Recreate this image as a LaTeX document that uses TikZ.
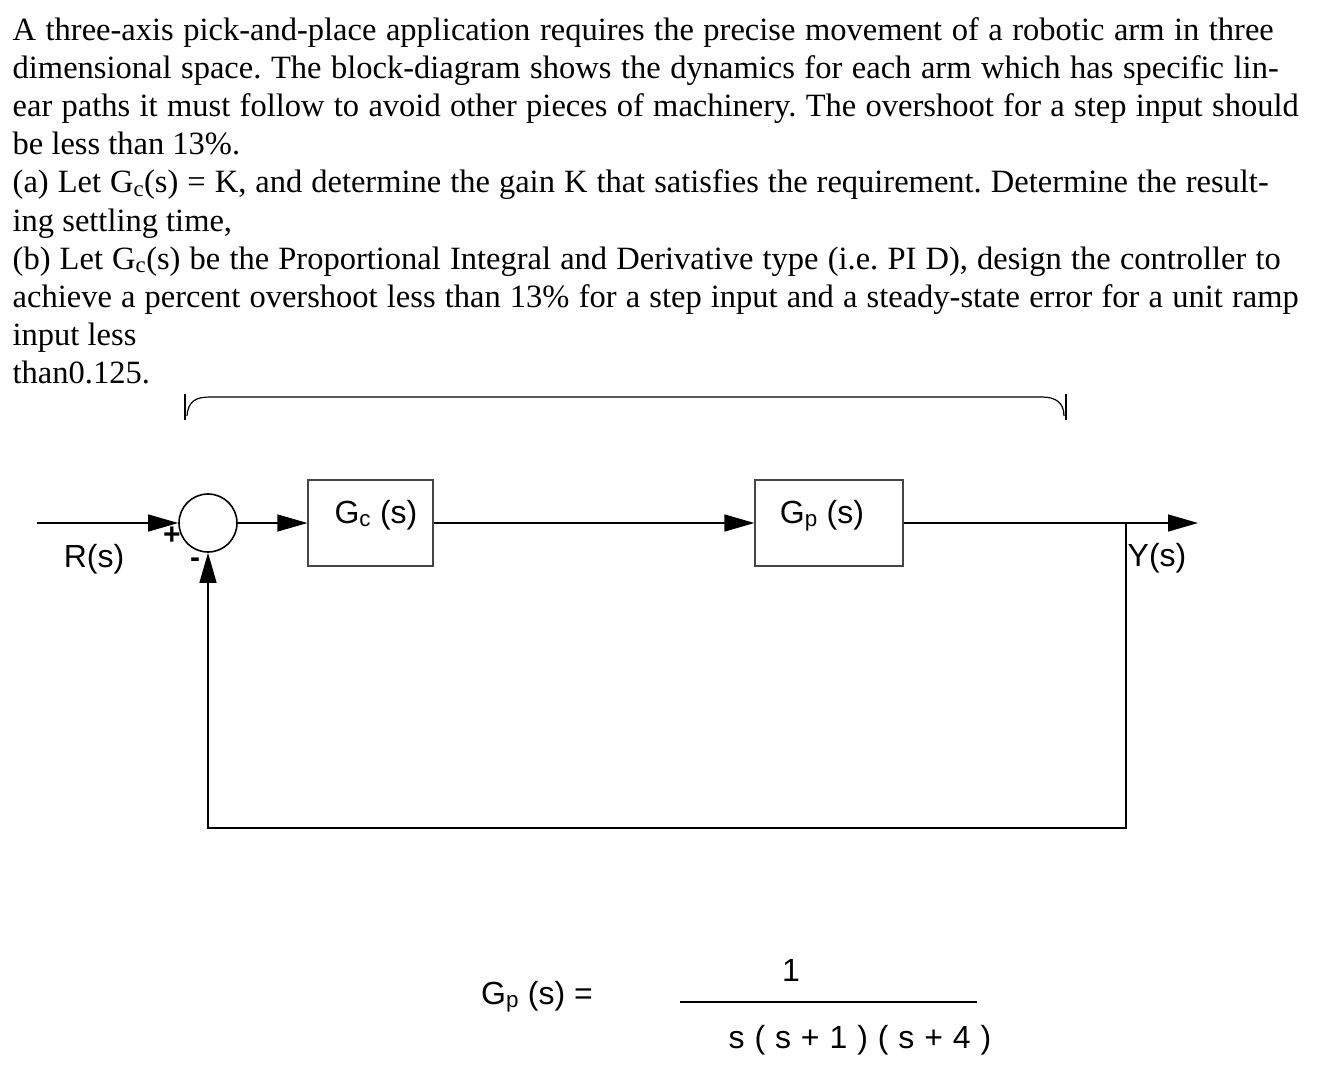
\documentclass[tikz,border=0pt]{standalone}
\usepackage{fontspec}
\setmainfont{Liberation Serif}
\setsansfont{Liberation Sans}
\usetikzlibrary{arrows.meta}
\frenchspacing

\def\txtx{12}
\def\txtskip{38.2}
\def\rowy{523}
\def\fby{828}
\definecolor{boxgray}{RGB}{70,70,70}
\newcommand{\lineY}[1]{40+(#1-1)*\txtskip}

\begin{document}
\begin{tikzpicture}[x=1pt,y=-1pt,line width=1.4pt,line cap=butt,
  txt/.style={anchor=base west,inner sep=0pt,font=\fontsize{32.5}{38}\selectfont},
  lbl/.style={inner sep=0pt,font=\sffamily\fontsize{32}{36}\selectfont},
  sgn/.style={inner sep=0pt,font=\sffamily\bfseries\fontsize{30}{34}\selectfont},
  sigarrow/.style={-{Triangle[length=30pt,width=17pt]}},
  blockbox/.style={draw=boxgray,line width=1.2pt,minimum width=#1,minimum height=86pt,inner sep=0pt},
  sumnode/.style={draw,circle,line width=1.6pt,minimum size=58pt,inner sep=0pt}]
  \useasboundingbox (0,0) rectangle (1328,1072);
  % problem statement
  \node[txt] (l1) at (\txtx,{\lineY{1}}) {\makebox[1261pt][s]{A three-axis pick-and-place application requires the precise movement of a robotic arm in three}};
  \node[txt] (l2) at (\txtx,{\lineY{2}}) {\makebox[1266pt][s]{dimensional space. The block-diagram shows the dynamics for each arm which has specific lin-}};
  \node[txt] (l3) at (\txtx,{\lineY{3}}) {\makebox[1286pt][s]{ear paths it must follow to avoid other pieces of machinery. The overshoot for a step input should}};
  \node[txt] (l4) at (\txtx,{\lineY{4}}) {be less than 13\%.};
  \node[txt] (l5) at (\txtx,{\lineY{5}}) {\makebox[1256pt][s]{(a) Let G\textsubscript{c}(s) = K, and determine the gain K that satisfies the requirement. Determine the result-}};
  \node[txt] (l6) at (\txtx,{\lineY{6}}) {ing settling time,};
  \node[txt] (l7) at (\txtx,{\lineY{7}}) {\makebox[1268pt][s]{(b) Let G\textsubscript{c}(s) be the Proportional Integral and Derivative type (i.e. PI D), design the controller to}};
  \node[txt] (l8) at (\txtx,{\lineY{8}}) {\makebox[1286pt][s]{achieve a percent overshoot less than 13\% for a step input and a steady-state error for a unit ramp}};
  \node[txt] (l9) at (\txtx,{\lineY{9}}) {input less};
  \node[txt] (l10) at (\txtx,{\lineY{10}}) {than0.125.};
  % bracket
  \draw[line width=1.2pt] (185,394) -- (185,420);
  \draw[line width=1.2pt] (1066,394) -- (1066,420);
  \draw[line width=1.2pt] (187,416) .. controls (188,401) and (196,397) .. (210,397) -- (1042,397)
    .. controls (1056,397) and (1064,403) .. (1064,416);
  % block diagram
  \coordinate (rin) at (37,\rowy);
  \node[sumnode] (sum) at (208,\rowy) {};
  \node[blockbox=125pt] (gc) at (370.5,\rowy) {};
  \node[blockbox=148pt] (gp) at (829,\rowy) {};
  \coordinate (tap) at (1126,\rowy);
  \coordinate (yout) at (1198,\rowy);
  \coordinate (fbr) at (1126,\fby);
  \node[lbl,anchor=base] (gctxt) at (376,523) {G\textsubscript{c} (s)};
  \node[lbl,anchor=base] (gptxt) at (822,523) {G\textsubscript{p} (s)};
  \draw[sigarrow] (rin) -- (sum);
  \draw[sigarrow] (sum) -- (gc);
  \draw[sigarrow] (gc) -- (gp);
  \draw[sigarrow] (gp) -- (yout);
  \draw[sigarrow] (tap) -- (fbr) -| (sum);
  \node[lbl] (rlbl) at (94,559) {R(s)};
  \node[lbl] (ylbl) at (1157,558) {Y(s)};
  \node[sgn] (plus) at (172,536) {+};
  \node[sgn] (minus) at (195,563) {-};
  % plant transfer function
  \node[lbl,anchor=base] (gpeq) at (537,1004) {G\textsubscript{p} (s) =};
  \coordinate (fracl) at (680,1002);
  \coordinate (fracr) at (977,1002);
  \draw[line width=1.2pt] (fracl) -- (fracr);
  \node[lbl,anchor=base] (num) at (791,981) {1};
  \node[lbl,anchor=base] (den) at (860,1048) {\spaceskip=0.31em s ( s + 1 ) ( s + 4 )};
\end{tikzpicture}
\end{document}
